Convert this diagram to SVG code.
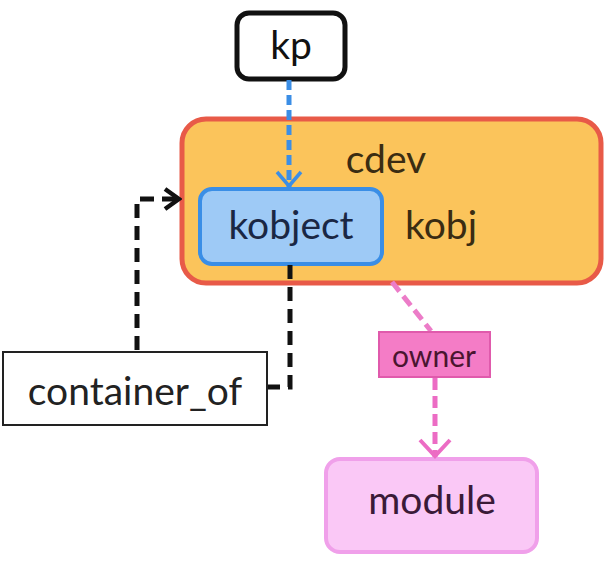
<svg xmlns="http://www.w3.org/2000/svg" width="611" height="562" viewBox="0 0 611 562">
<style>
text{font-family:Lato,"Liberation Sans",sans-serif;text-anchor:middle}
.big{font-size:39px}
.blk{fill:none;stroke:#111;stroke-width:5;stroke-dasharray:14 8}
</style>
<defs>
<marker id="ab" viewBox="0 0 20 28" refX="18" refY="14" markerWidth="20" markerHeight="28" markerUnits="userSpaceOnUse" orient="auto"><path d="M3,2 L17,14 L3,26" fill="none" stroke="#3b8ee6" stroke-width="3.5"/></marker>
<marker id="ak" viewBox="0 0 20 24" refX="18" refY="12" markerWidth="20" markerHeight="24" markerUnits="userSpaceOnUse" orient="auto"><path d="M3,2 L17,12 L3,22" fill="none" stroke="#111" stroke-width="4.5"/></marker>
<marker id="ap" viewBox="0 0 22 34" refX="20" refY="17" markerWidth="22" markerHeight="34" markerUnits="userSpaceOnUse" orient="auto"><path d="M3,2 L19,17 L3,32" fill="none" stroke="#ec6cc4" stroke-width="4"/></marker>
</defs>
<rect width="611" height="562" fill="#fff"/>
<g id="cdev">
<rect x="182" y="119" width="419" height="164" rx="24" fill="#fbc45b" stroke="#e85a48" stroke-width="5"/>
<text x="386" y="173" class="big" fill="#3a2c12">cdev</text>
<text x="441" y="239" class="big" fill="#3a2c12">kobj</text>
</g>
<g id="kobject">
<rect x="200" y="189" width="182" height="75" rx="12" fill="#9ecaf6" stroke="#3a8ee6" stroke-width="4"/>
<text x="291" y="239" class="big" fill="#1a2744">kobject</text>
</g>
<g id="kp">
<rect x="237" y="13" width="108" height="66" rx="12" fill="#fff" stroke="#111" stroke-width="5"/>
<text x="291" y="59" class="big" fill="#111">kp</text>
</g>
<g id="container_of">
<rect x="3" y="352" width="264" height="73" fill="#fff" stroke="#222" stroke-width="2"/>
<text x="135" y="405" class="big" fill="#222">container_of</text>
</g>
<g id="module">
<rect x="326" y="459" width="211" height="93" rx="14" fill="#fac8f6" stroke="#f0a0ea" stroke-width="4"/>
<text x="432" y="514" class="big" fill="#3a1a38">module</text>
</g>
<g id="connectors">
<path d="M289,80 V187" fill="none" stroke="#3b8ee6" stroke-width="5" stroke-dasharray="10 5" marker-end="url(#ab)"/>
<path d="M137,350 V199 H180" class="blk" marker-end="url(#ak)"/>
<path d="M290,265 V387 H268" class="blk"/>
<path d="M392,282 L431,331" fill="none" stroke="#ec7cc8" stroke-width="5" stroke-dasharray="12 6"/>
<path d="M435,378 V457" fill="none" stroke="#ec6cc4" stroke-width="5" stroke-dasharray="12 6" marker-end="url(#ap)"/>
</g>
<g id="owner">
<rect x="379" y="332" width="111" height="45" fill="#f47cc6" stroke="#e05aac" stroke-width="2"/>
<text x="434" y="367" font-size="30" fill="#4a1530">owner</text>
</g>
</svg>
